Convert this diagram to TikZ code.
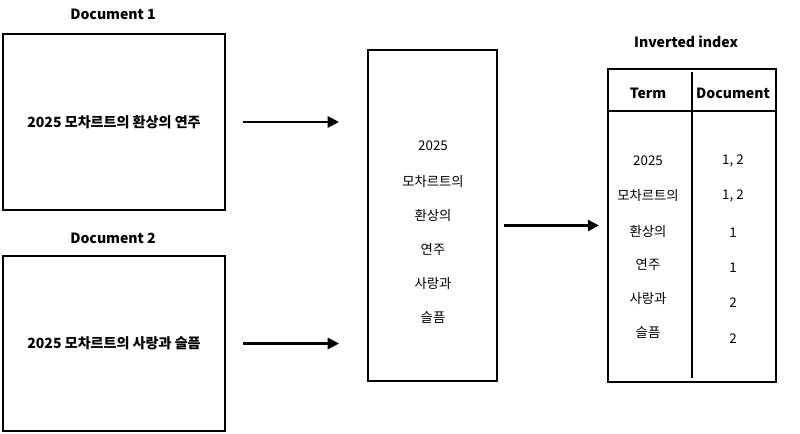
\documentclass[tikz,border=0pt]{standalone}
\usepackage{fontspec}
\setmainfont{Noto Sans CJK KR}
\usetikzlibrary{arrows.meta,calc}

\tikzset{
  boxline/.style={draw, line width=1.4pt},
  docbox/.style={boxline, minimum width=5.55cm, minimum height=4.375cm, font=\bfseries},
  lbl/.style={font=\bfseries},
  arr/.style={-{Triangle[length=8pt,width=8pt]}, line width=1.7pt},
}

\begin{document}
\begin{tikzpicture}[x=0.025cm, y=-0.025cm, font=\fontsize{9.5}{11}\selectfont]
        \useasboundingbox (0,0) rectangle (800,433);
        % Documentos
        \node[lbl] (t1) at (113,14) {Document 1};
        \node[docbox] (d1) at (114,122) {2025 모차르트의 환상의 연주};
        \node[lbl] (t2) at (113,238) {Document 2};
        \node[docbox] (d2) at (114,343.5) {2025 모차르트의 사랑과 슬픔};
        % Tokens
        \node[boxline, minimum width=3.225cm, minimum height=8.275cm] (mid) at (432.5,215.5) {};
        \node (m1) at (433,146) {2025};
        \node (m2) at (433,182) {모차르트의};
        \node (m3) at (433,215) {환상의};
        \node (m4) at (433,249) {연주};
        \node (m5) at (433,283) {사랑과};
        \node (m6) at (433,317) {슬픔};
        % Indice invertido
        \node[lbl] (t3) at (686,42) {Inverted index};
        \node[boxline, minimum width=4.2cm, minimum height=7.825cm] (tab) at (692,225.5) {};
        \draw[line width=1.4pt] (tab.west |- 0,111) -- (tab.east |- 0,111);
        \draw[line width=1.2pt] (692,72) -- (692,378);
        \node[lbl] (h1) at (648,93) {Term};
        \node[lbl] (h2) at (733,93) {Document};
        % Filas
        \node (r1) at (648,161) {2025};
        \node (r2) at (648,196) {모차르트의};
        \node (r3) at (648,231) {환상의};
        \node (r4) at (648,264) {연주};
        \node (r5) at (648,298) {사랑과};
        \node (r6) at (648,332) {슬픔};
        \node (c1) at (733,161) {1, 2};
        \node (c2) at (733,196) {1, 2};
        \node (c3) at (733,233) {1};
        \node (c4) at (733,268) {1};
        \node (c5) at (733,303) {2};
        \node (c6) at (733,339) {2};
        % Flechas
        \draw[arr, shorten <=0.425cm, shorten >=0.7cm] (d1.east) -- (mid.west |- d1.east);
        \draw[arr, shorten <=0.425cm, shorten >=0.7cm] (d2.east) -- (mid.west |- d2.east);
        \draw[arr, shorten <=0.15cm, shorten >=0.2cm] (mid.east |- tab.west) -- (tab.west);
    \end{tikzpicture}
\end{document}
